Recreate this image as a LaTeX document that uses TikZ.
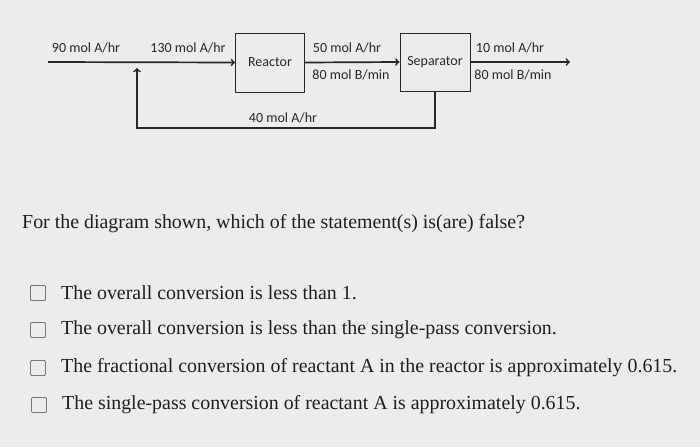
\documentclass[tikz,border=0pt]{standalone}
\usepackage{fontspec}
\setmainfont{Liberation Serif}
\newfontfamily\diagfont{Carlito}
\usepackage{tikz}
\usetikzlibrary{positioning}
\definecolor{paper}{RGB}{236,236,234}
\definecolor{ink}{RGB}{40,40,40}
\definecolor{boxgray}{RGB}{120,120,120}

\begin{document}
\begin{tikzpicture}[
x=1pt, y=-1pt,
unitnode/.style={rectangle, draw=ink, line width=1pt, inner sep=0pt, text=ink, font=\diagfont\fontsize{14}{16}\selectfont},
flowlabel/.style={inner sep=0pt, text=ink, font=\diagfont\fontsize{14}{16}\selectfont},
stream/.style={ink, line width=1.7pt},
question/.style={inner sep=0pt, anchor=west, text=black!88, font=\fontsize{19.9}{23}\selectfont},
tickbox/.style={rectangle, draw=boxgray, line width=0.9pt, rounded corners=1pt, minimum size=15pt, inner sep=0pt},
]
\fill[paper] (0,0) rectangle (700,447);
\useasboundingbox (0,0) rectangle (700,447);

%Nodes
\node[unitnode, minimum width=69pt, minimum height=59pt] (reactor) at (270,62.5) {Reactor};
\node[unitnode, minimum width=70pt, minimum height=58pt] (sep) at (435,62) {Separator};
\coordinate (feed) at (48,62);
\coordinate (mix) at (137,62);
\coordinate (out) at (570,62);
\coordinate (rec) at (137,128);
\coordinate (rtip) at (137,68);

\node[flowlabel] (f1) at (86,48) {90 mol A/hr};
\node[flowlabel] (f2) at (188,48) {130 mol A/hr};
\node[flowlabel] (f3) at (347,48) {50 mol A/hr};
\node[flowlabel] (f4) at (351,75) {80 mol B/min};
\node[flowlabel] (f5) at (510,48) {10 mol A/hr};
\node[flowlabel] (f6) at (513,75) {80 mol B/min};
\node[flowlabel] (f7) at (283,118) {40 mol A/hr};

\node[question] (q) at (22,224) {For the diagram shown, which of the statement(s) is(are) false?};
\node[tickbox] (c1) at (38,293) {};
\node[tickbox] (c2) at (38,330) {};
\node[tickbox] (c3) at (38,368) {};
\node[tickbox] (c4) at (39,405) {};
\node[question, right=15pt of c1] (a1) {The overall conversion is less than 1.};
\node[question, right=15pt of c2] (a2) {The overall conversion is less than the single-pass conversion.};
\node[question, right=15pt of c3] (a3) {The fractional conversion of reactant A in the reactor is approximately 0.615.};
\node[question, right=15pt of c4] (a4) {The single-pass conversion of reactant A is approximately 0.615.};

%Lines
\draw[stream, ->] (feed) -- (reactor.west);
\draw[stream, ->] (reactor.east) -- (sep.west);
\draw[stream, ->] (sep.east) -- (out);
\draw[stream, ->] (sep.south) |- (rec) -- (rtip);
\end{tikzpicture}
\end{document}
